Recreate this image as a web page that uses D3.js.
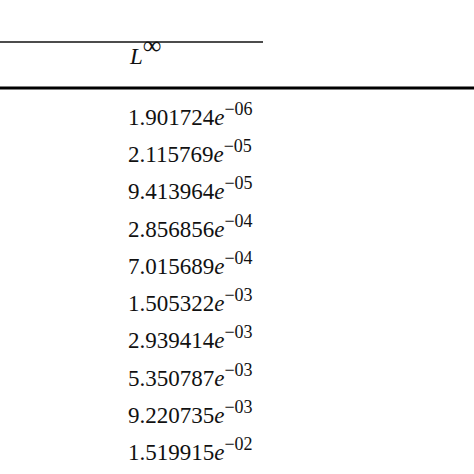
<!DOCTYPE html>
<html><head><meta charset="utf-8">
<script src="https://cdn.jsdelivr.net/npm/d3@7"></script>
<style>body{margin:0;background:#fff}svg{display:block}</style></head>
<body><svg id="c" width="474" height="474"></svg>
<script>
const header = "L";
const mantissas = ["1.901724","2.115769","9.413964","2.856856","7.015689","1.505322","2.939414","5.350787","9.220735","1.519915"];
const exponents = ["−06","−05","−05","−04","−04","−03","−03","−03","−03","−02"];
const svg = d3.select("#c");
const font = "Liberation Serif, Times New Roman, serif";
svg.append("line").attr("x1",0).attr("x2",263).attr("y1",42).attr("y2",42).attr("stroke","#111").attr("stroke-width",1.3);
svg.append("line").attr("x1",0).attr("x2",474).attr("y1",88).attr("y2",88).attr("stroke","#000").attr("stroke-width",3);
const h = svg.append("text").attr("x",130).attr("y",64).attr("font-family",font).attr("font-size",23).attr("fill","#111");
h.append("tspan").attr("font-style","italic").text(header);
h.append("tspan").attr("dy",-10).attr("font-size",26).text("∞");
const y = d3.scalePoint().domain(d3.range(mantissas.length)).range([125,460]);
const g = svg.selectAll("g.row").data(mantissas).join("g");
g.each(function(m,i){
  const t = d3.select(this).append("text").attr("x",128).attr("y",y(i)).attr("font-family",font).attr("font-size",23).attr("fill","#111");
  t.append("tspan").text(m);
  t.append("tspan").attr("font-style","italic").text("e");
  t.append("tspan").attr("dy",-10).attr("font-size",18).text(exponents[i]);
});
</script></body></html>
